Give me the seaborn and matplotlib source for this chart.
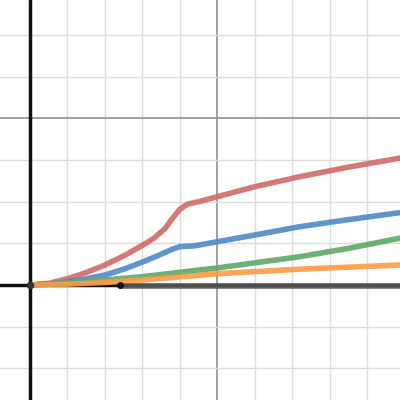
import numpy as np
import pandas as pd
import seaborn as sns
import matplotlib.pyplot as plt

x_red = [0, 0.5, 1, 1.5, 2, 2.5, 3, 3.3, 3.6, 3.8, 4.0, 4.2, 4.5, 5, 6, 7.2, 8.5, 9.9]
y_red = [0, 0.04, 0.15, 0.3, 0.48, 0.7, 0.95, 1.12, 1.35, 1.6, 1.82, 1.94, 2.0, 2.12, 2.36, 2.6, 2.83, 3.05]
x_blue = [0, 0.5, 1, 1.5, 2, 2.5, 3, 3.4, 3.8, 4.0, 4.4, 5, 6, 7.2, 8.5, 9.9]
y_blue = [0, 0.02, 0.08, 0.15, 0.24, 0.38, 0.55, 0.7, 0.86, 0.92, 0.94, 1.04, 1.2, 1.4, 1.57, 1.74]
x_green = [0, 1, 2, 3, 5, 7.2, 8.5, 9.9]
y_green = [0, 0.05, 0.12, 0.2, 0.41, 0.68, 0.88, 1.13]
x_orange = [0, 1, 2, 3, 5, 7.2, 9.9]
y_orange = [0, 0.02, 0.06, 0.12, 0.27, 0.38, 0.48]
x_gray = [2.4, 9.9]
y_gray = [-0.03, -0.03]

series = [
    (x_red, y_red, "#d06b68"),
    (x_blue, y_blue, "#4f8ac6"),
    (x_green, y_green, "#5ea866"),
    (x_orange, y_orange, "#fb9b45"),
    (x_gray, y_gray, "#555555"),
]

sns.set_style("white")
fig, ax = plt.subplots(figsize=(4, 4), dpi=100)
fig.subplots_adjust(0, 0, 1, 1)

for v in np.arange(-2, 11, 1):
    ax.axvline(v, color="#999999" if v % 5 == 0 else "#dddddd", lw=1.3 if v % 5 == 0 else 1, zorder=0)
for v in np.arange(-3, 8, 1):
    ax.axhline(v, color="#999999" if v % 4 == 0 else "#dddddd", lw=1.3 if v % 4 == 0 else 1, zorder=0)
ax.axhline(0, color="#111111", lw=2.5, zorder=1)
ax.axvline(0, color="#111111", lw=2.5, zorder=1)

for xs, ys, c in series:
    df = pd.DataFrame({"x": xs, "y": ys})
    sns.lineplot(data=df, x="x", y="y", color=c, lw=4, alpha=0.9, ax=ax, zorder=3)
ax.scatter([2.4], [0], color="#111111", s=15, zorder=4)
ax.scatter([0], [0], color="#333333", s=20, zorder=4)

ax.set_xlim(-0.8, 9.87)
ax.set_ylim(-2.76, 6.84)
ax.set_xticks([])
ax.set_yticks([])
ax.set_xlabel("")
ax.set_ylabel("")
for s in ax.spines.values():
    s.set_visible(False)
fig.savefig("out.png")
